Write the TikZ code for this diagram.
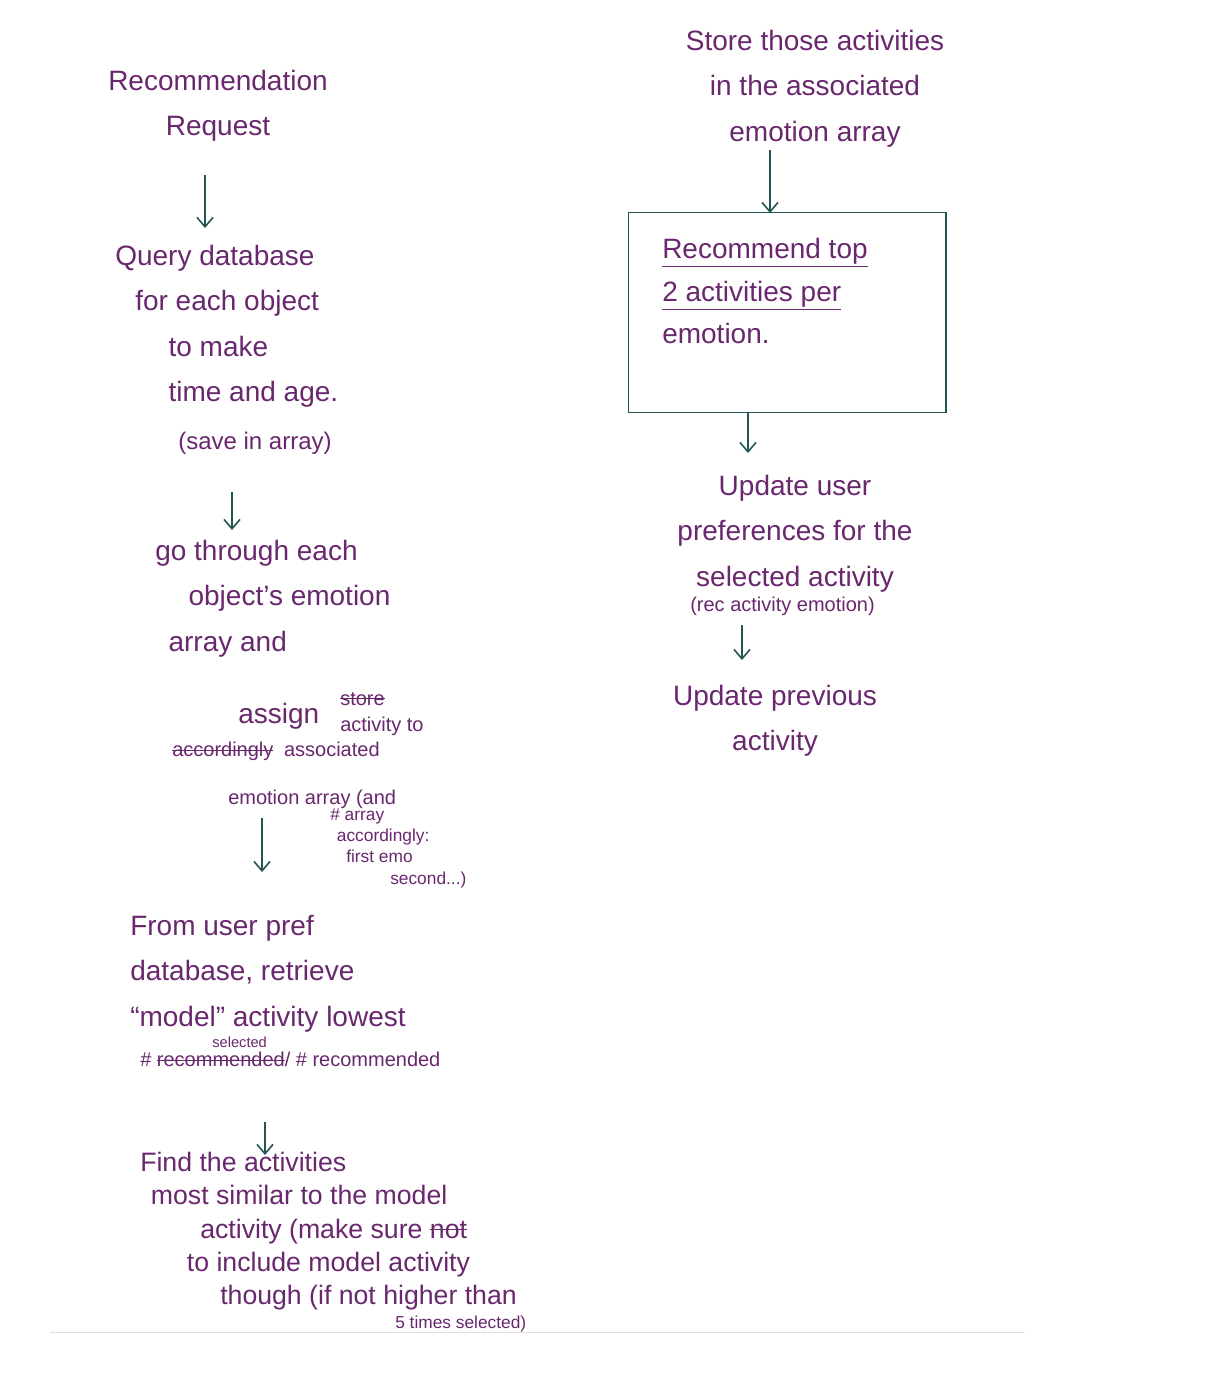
\documentclass[tikz,border=0pt]{standalone}
\usepackage{fontspec}
\setmainfont{Liberation Sans}
\usetikzlibrary{arrows.meta}
\definecolor{ink}{RGB}{105,40,110}
\definecolor{pen}{RGB}{35,85,85}
\newlength\strkl
\newcommand\strk[1]{\settowidth\strkl{#1}\rlap{\rule[0.3em]{\strkl}{0.8pt}}#1}
\tikzset{
 txt/.style={text=ink, align=left, anchor=north west, inner sep=0pt, font=\fontsize{21}{34}\selectfont},
 sm/.style={text=ink, align=left, anchor=north west, inner sep=0pt, font=\fontsize{15}{20}\selectfont},
 arr/.style={draw=pen, line width=1.2pt, -{Straight Barb[length=7pt,width=12pt]}}
}
\begin{document}
\begin{tikzpicture}[x=0.75pt,y=-0.75pt]
\useasboundingbox[fill=white] (0,0) rectangle (1210,1386);
\draw[gray!25] (50,1332) -- (1025,1332);
% left column
\node[txt, anchor=north, align=center, font=\fontsize{21}{34}\selectfont] (req) at (218,70) {Recommendation\\Request};
\coordinate (a1s) at (205,175); \coordinate (a1e) at (205,228);
\draw[arr] (a1s) -- (a1e);
\node[txt] (query) at (115,245) {Query database\\\hspace*{15pt}for each object\\\hspace*{40pt}to make\\\hspace*{40pt}time and age.};
\node[sm, font=\fontsize{18}{20}\selectfont] (save) at (178,432) {(save in array)};
\coordinate (a2s) at (232,492); \coordinate (a2e) at (232,530);
\draw[arr] (a2s) -- (a2e);
\node[txt] (go) at (155,540) {go through each\\\hspace*{25pt}object's emotion\\\hspace*{10pt}array and};
\node[txt] (assign) at (238,703) {assign};
\node[sm] (act) at (340,692) {\strk{store}\\activity to};
\node[sm] (acc) at (172,742) {\strk{accordingly}\hspace{8pt}associated};
\node[sm] (emo) at (228,790) {emotion array (and};
\node[sm, font=\fontsize{13}{16}\selectfont] (note) at (330,808) {\# array\\\hspace*{5pt}accordingly:\\\hspace*{12pt}first emo\\\hspace*{45pt}second...)};
\coordinate (a3s) at (262,818); \coordinate (a3e) at (262,872);
\draw[arr] (a3s) -- (a3e);
\node[txt] (pref) at (130,915) {From user pref\\database, retrieve\\``model'' activity lowest};
\node[sm] (ratio) at (140,1052) {\# \strk{recommended}/ \# recommended};
\node[sm, font=\fontsize{11}{12}\selectfont] (sel) at (212,1037) {selected};
\coordinate (a4s) at (265,1122); \coordinate (a4e) at (265,1155);
\draw[arr] (a4s) -- (a4e);
\node[txt, font=\fontsize{20}{25}\selectfont] (find) at (140,1152) {Find the activities\\\hspace*{8pt}most similar to the model\\\hspace*{45pt}activity (make sure \strk{not}\\\hspace*{35pt}to include model activity\\\hspace*{60pt}though (if not higher than};
\node[sm, font=\fontsize{13}{14}\selectfont] (times) at (395,1316) {5 times selected)};
% right column
\node[txt, anchor=north, align=center] (store) at (815,30) {Store those activities\\in the associated\\emotion array};
\coordinate (b1s) at (770,150); \coordinate (b1e) at (770,213);
\draw[arr] (b1s) -- (b1e);
\node[draw=pen, line width=1pt, minimum width=238pt, minimum height=150pt, anchor=north west, inner sep=0pt] (box) at (628,212) {};
\node[txt, text=ink] (rec) at (662,238) {\underline{Recommend top}\\[-2pt]\underline{2 activities per}\\[-2pt]emotion.};
\coordinate (b2e) at (748,453);
\draw[arr] (box.south -| b2e) -- (b2e);
\node[txt, anchor=north, align=center] (upd) at (795,475) {Update user\\preferences for the\\selected activity};
\node[sm] (reca) at (690,597) {(rec activity emotion)};
\coordinate (b3s) at (742,625); \coordinate (b3e) at (742,660);
\draw[arr] (b3s) -- (b3e);
\node[txt, anchor=north, align=center] (prev) at (775,685) {Update previous\\activity};
\end{tikzpicture}
\end{document}
